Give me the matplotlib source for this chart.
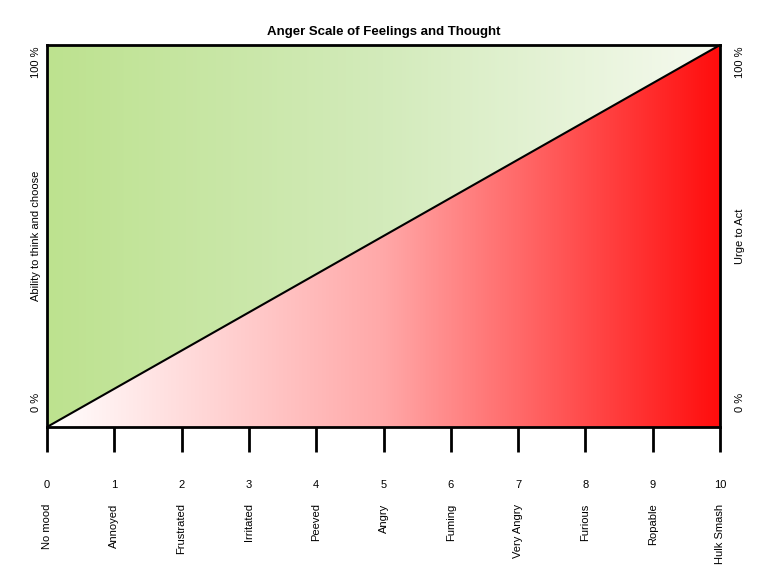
import numpy as np
import matplotlib
matplotlib.use("Agg")
import matplotlib.pyplot as plt
from matplotlib.patches import Polygon
from matplotlib.colors import LinearSegmentedColormap

levels = [0, 1, 2, 3, 4, 5, 6, 7, 8, 9, 10]
names = ["No mood", "Annoyed", "Frustrated", "Irritated", "Peeved", "Angry",
         "Fuming", "Very Angry", "Furious", "Ropable", "Hulk Smash"]
line_y = [0, 100]

plt.rcParams['font.family'] = ['Liberation Sans', 'DejaVu Sans']
fig = plt.figure(figsize=(7.68, 5.66), dpi=100)
ax = fig.add_axes([0.0612, 0.2456, 0.8763, 0.6749])
ax.set_xlim(0, 10)
ax.set_ylim(0, 100)

grad = np.linspace(0, 1, 256).reshape(1, -1)
green = LinearSegmentedColormap.from_list("g", [(0, "#bde28f"), (0.5, "#d3ebbb"), (1, "#f6faf0")])
red = LinearSegmentedColormap.from_list("r", [(0, "#ffffff"), (0.5, "#ffa8a8"), (1, "#ff0d0d")])
im1 = ax.imshow(grad, cmap=green, extent=[0, 10, 0, 100], aspect='auto', zorder=1)
im1.set_clip_path(Polygon([[0, 0], [0, 100], [10, 100]], transform=ax.transData))
im2 = ax.imshow(grad, cmap=red, extent=[0, 10, 0, 100], aspect='auto', zorder=1)
im2.set_clip_path(Polygon([[0, 0], [10, 0], [10, 100]], transform=ax.transData))

ax.plot([levels[0], levels[-1]], line_y, color='black', lw=1.5, zorder=3)
for s in ax.spines.values():
    s.set_linewidth(2)

ax.set_xticks(levels)
ax.set_xticklabels([str(v) for v in levels], fontsize=8)
ax.tick_params(axis='x', length=18, width=2, pad=20)
ax.set_yticks([])

for xa, lab in [(-0.017, "Ability to think and choose"), (1.03, "Urge to Act")]:
    ax.text(xa, 95.5, "100 %", rotation=90, ha='center', va='center', fontsize=8, transform=ax.get_yaxis_transform())
    ax.text(xa, 6.5, "0 %", rotation=90, ha='center', va='center', fontsize=8, transform=ax.get_yaxis_transform())
    ax.text(xa, 50, lab, rotation=90, ha='center', va='center', fontsize=8, transform=ax.get_yaxis_transform())

for x, n in zip(levels, names):
    ax.text(x, -20, n, rotation=90, ha='center', va='top', fontsize=8)

ax.set_title("Anger Scale of Feelings and Thought", fontsize=9.5, fontweight='bold', pad=7)
fig.savefig("out.png", dpi=100)
